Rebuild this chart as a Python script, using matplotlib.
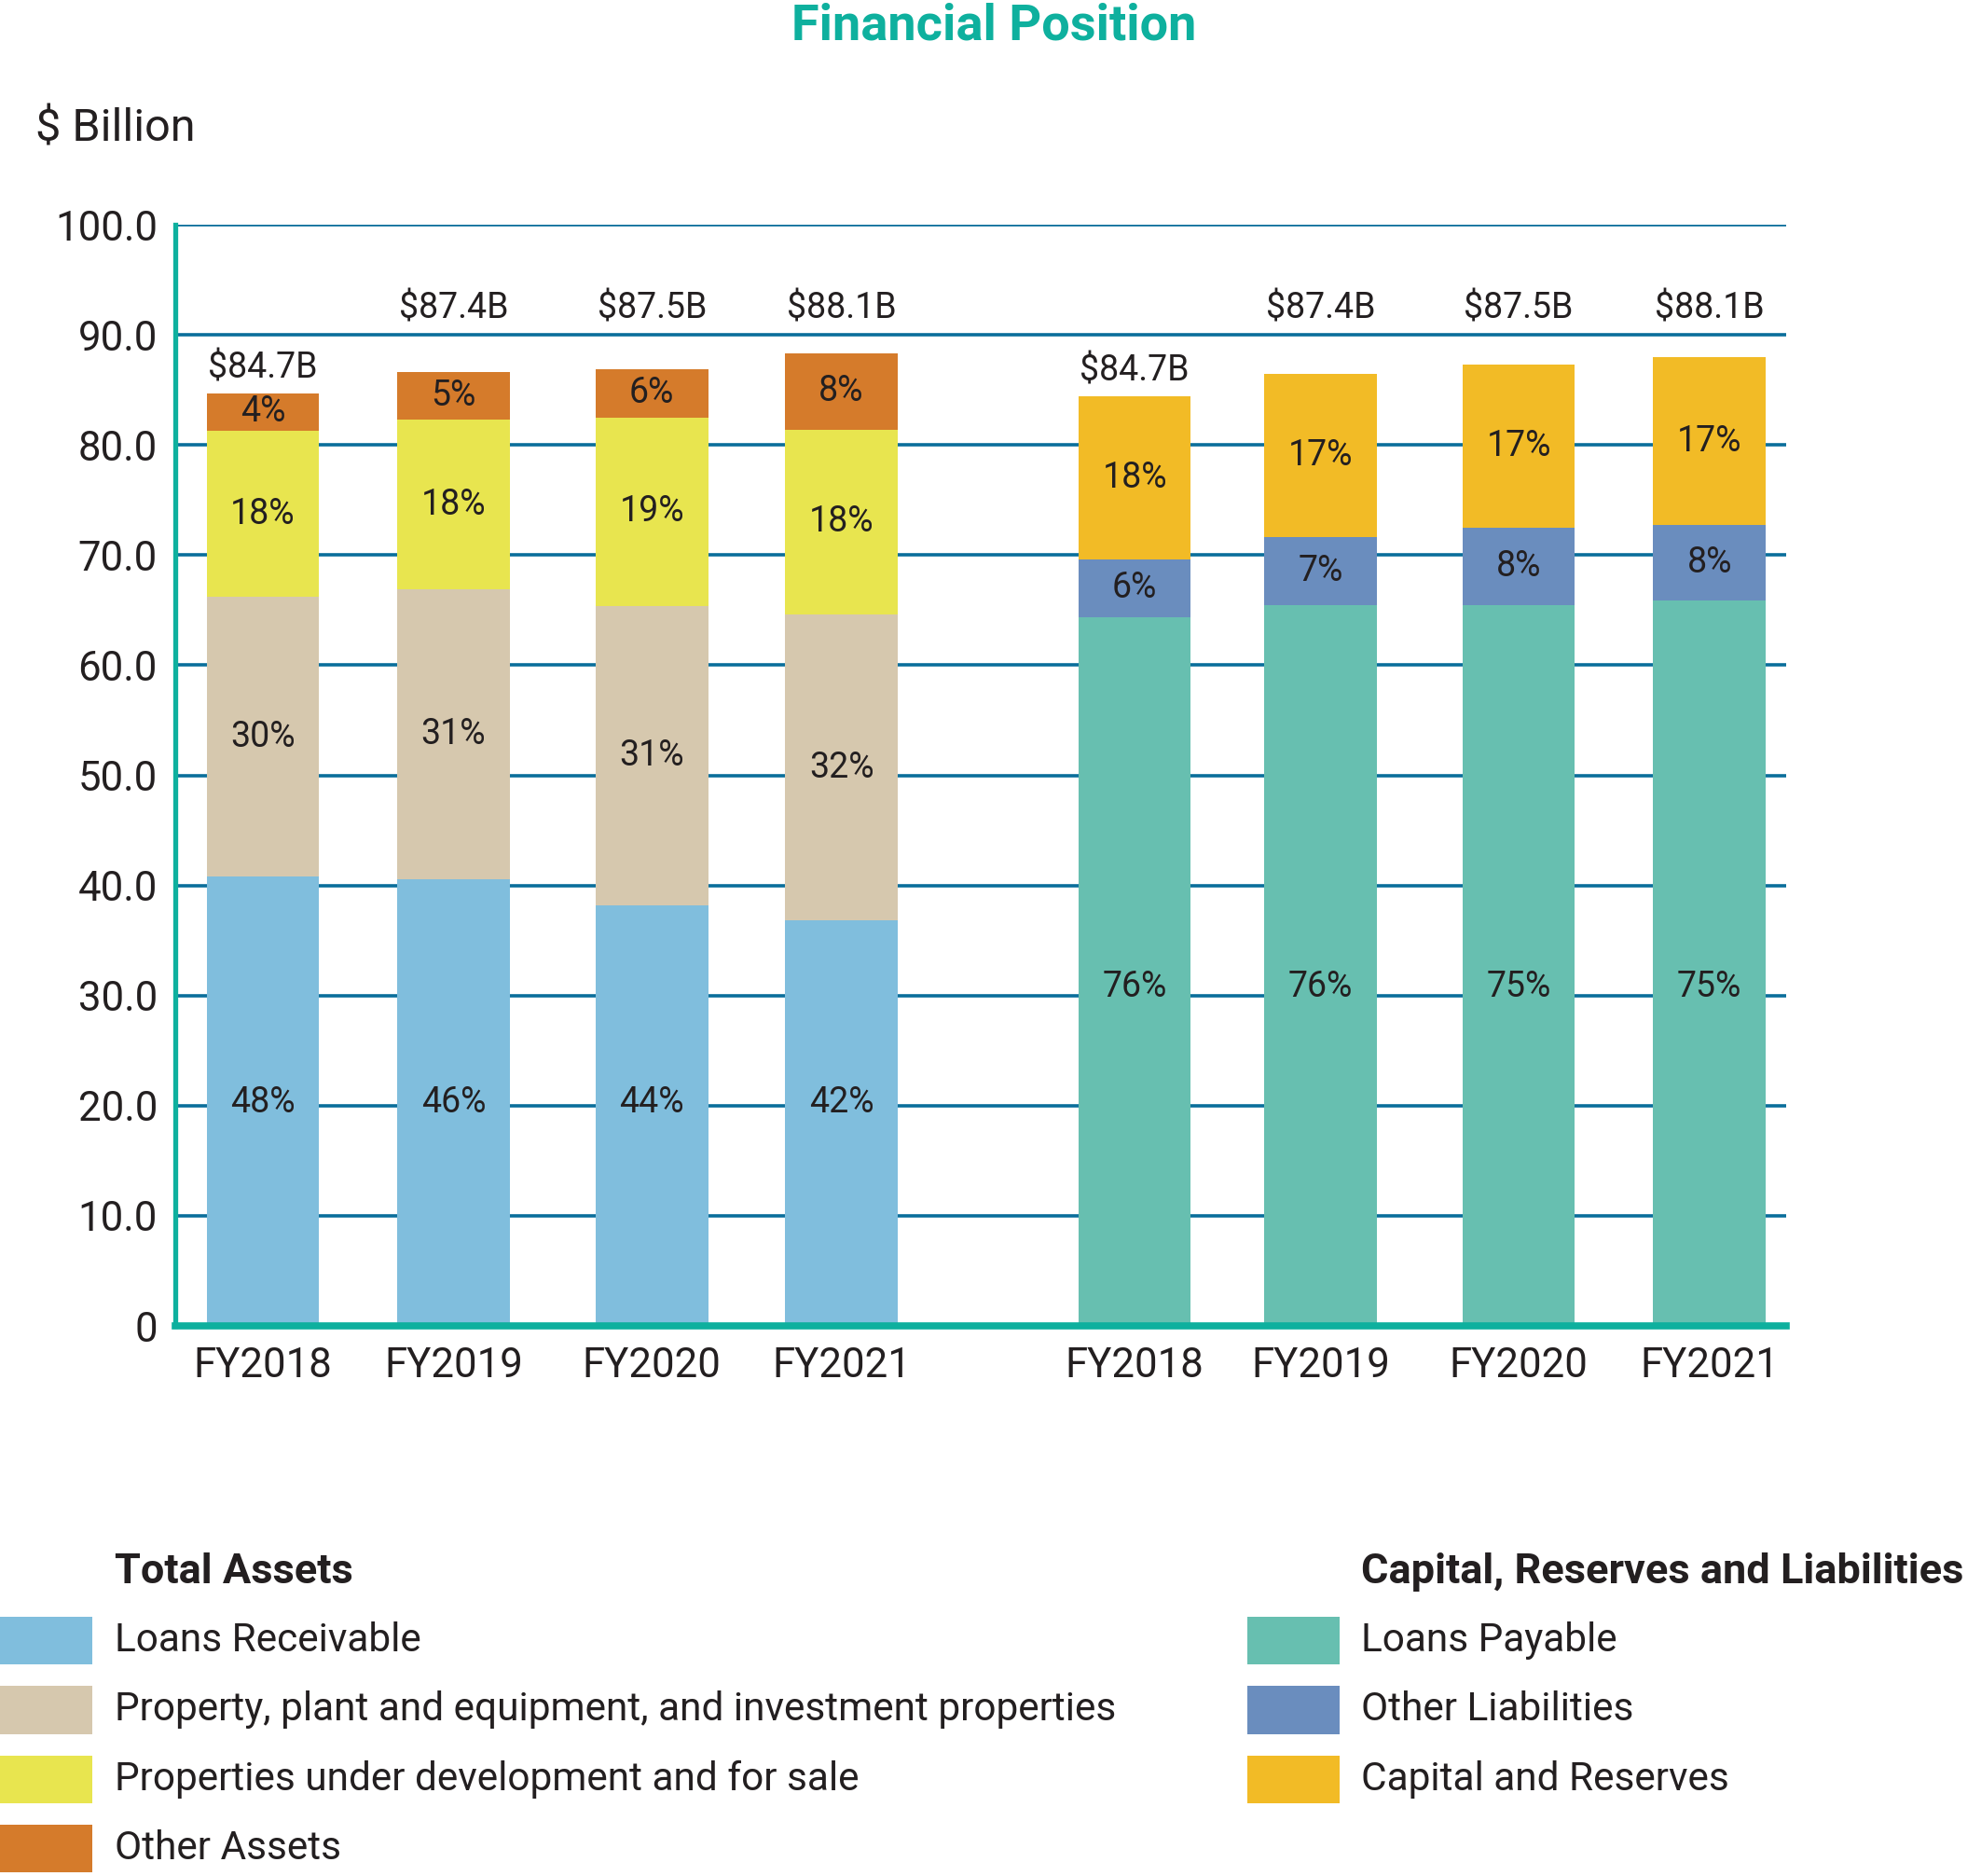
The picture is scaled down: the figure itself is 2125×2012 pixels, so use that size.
import matplotlib
matplotlib.use("Agg")
import matplotlib.pyplot as plt
from matplotlib.patches import Rectangle

plt.rcParams['font.family'] = ['Roboto', 'DejaVu Sans']

# ---------------- data ----------------
years = ["FY2018", "FY2019", "FY2020", "FY2021"]
totals = ["$84.7B", "$87.4B", "$87.5B", "$88.1B"]

# Total Assets ($ billion)
loans_receivable = [40.8, 40.6, 38.2, 36.8]
ppe_investment = [25.4, 26.3, 27.2, 27.8]
properties_dev = [15.1, 15.4, 17.1, 16.8]
other_assets = [3.4, 4.3, 4.4, 6.9]
loans_receivable_pct = ["48%", "46%", "44%", "42%"]
ppe_investment_pct = ["30%", "31%", "31%", "32%"]
properties_dev_pct = ["18%", "18%", "19%", "18%"]
other_assets_pct = ["4%", "5%", "6%", "8%"]

# Capital, Reserves and Liabilities ($ billion)
loans_payable = [64.4, 65.5, 65.5, 65.9]
other_liabilities = [5.2, 6.1, 7.0, 6.8]
capital_reserves = [14.8, 14.9, 14.8, 15.3]
loans_payable_pct = ["76%", "76%", "75%", "75%"]
other_liabilities_pct = ["6%", "7%", "8%", "8%"]
capital_reserves_pct = ["18%", "17%", "17%", "17%"]

y_ticks = [0, 10, 20, 30, 40, 50, 60, 70, 80, 90, 100]
y_ticklabels = ["0", "10.0", "20.0", "30.0", "40.0", "50.0", "60.0", "70.0", "80.0", "90.0", "100.0"]

# ---------------- style ----------------
C_LR = "#80BEDD"
C_PPE = "#D6C8AE"
C_PUD = "#E8E54F"
C_OA = "#D57B2B"
C_LP = "#67BFB0"
C_OL = "#6A8DBE"
C_CR = "#F2BB26"
C_GRID = "#0A6E9B"
C_TEAL = "#0EB09E"
C_TEXT = "#231F20"

W, H = 2125, 2012
fig = plt.figure(figsize=(W / 100, H / 100), dpi=100)

ax_left = 139 / 1568
ax_right = 1414 / 1568
y0_frac = 1 - 1050 / 1485.6
y100_frac = 1 - 178 / 1485.6
ax = fig.add_axes([ax_left, y0_frac, ax_right - ax_left, y100_frac - y0_frac])

left_x = [0, 0.993, 2.026, 3.013]
right_x = [4.54, 5.507, 6.54, 7.533]
bw = 0.585

ax.set_xlim(-0.454, 7.934)
ax.set_ylim(0, 100)

for y in y_ticks[1:]:
    ax.axhline(y, color=C_GRID, lw=2.6, zorder=0)


def stack(xs, series, colors, pcts, fixed_first=None):
    bottom = [0.0] * len(xs)
    for k, (vals, col, labs) in enumerate(zip(series, colors, pcts)):
        ax.bar(xs, vals, bw, bottom=bottom, color=col, zorder=2, linewidth=0)
        for i, x in enumerate(xs):
            if k == 0 and fixed_first is not None:
                ym = fixed_first
            else:
                ym = bottom[i] + vals[i] / 2
            ax.text(x, ym, labs[i], ha="center", va="center", fontsize=27,
                    color=C_TEXT, zorder=3)
        bottom = [b + v for b, v in zip(bottom, vals)]
    return bottom


top_l = stack(left_x, [loans_receivable, ppe_investment, properties_dev, other_assets],
              [C_LR, C_PPE, C_PUD, C_OA],
              [loans_receivable_pct, ppe_investment_pct, properties_dev_pct, other_assets_pct],
              fixed_first=20.3)
top_r = stack(right_x, [loans_payable, other_liabilities, capital_reserves],
              [C_LP, C_OL, C_CR],
              [loans_payable_pct, other_liabilities_pct, capital_reserves_pct],
              fixed_first=30.8)

for xs, tops in ((left_x, top_l), (right_x, top_r)):
    for i, x in enumerate(xs):
        ty = tops[i] + 2.3 if i == 0 else 92.4
        ax.text(x, ty, totals[i], ha="center", va="center", fontsize=27,
                color=C_TEXT, zorder=3)

ax.set_xticks(left_x + right_x)
ax.set_xticklabels(years + years, fontsize=31.5, color=C_TEXT)
ax.set_yticks(y_ticks)
ax.set_yticklabels(y_ticklabels, fontsize=31.5, color=C_TEXT, va="center_baseline")
ax.tick_params(axis="both", length=0)
ax.tick_params(axis="y", pad=14)
ax.tick_params(axis="x", pad=16)

for s in ("top", "right"):
    ax.spines[s].set_visible(False)
ax.spines["left"].set_color(C_TEAL)
ax.spines["left"].set_linewidth(3.8)
ax.spines["bottom"].set_color(C_TEAL)
ax.spines["bottom"].set_linewidth(5.5)
ax.spines["bottom"].set_zorder(4)

# title and unit
fig.text(787 / 1568, 1 - 21 / 1485.6, "Financial Position", ha="center", va="center",
         fontsize=39, fontweight="bold", color=C_TEAL)
fig.text(28 / 1568, 1 - 102 / 1485.6, "$ Billion", ha="left", va="center",
         fontsize=35, color=C_TEXT)

# legend
def fx(px):
    return px / 1568


def fy(py):
    return 1 - py / 1485.6


sw_w = 73 / 1568
sw_h = 38 / 1485.6
fig.text(fx(91), fy(1245), "Total Assets", ha="left", va="center", fontsize=32.5,
         fontweight="bold", color=C_TEXT)
fig.text(fx(1077), fy(1245), "Capital, Reserves and Liabilities", ha="left", va="center",
         fontsize=32.5, fontweight="bold", color=C_TEXT)

left_items = [(C_LR, "Loans Receivable"),
              (C_PPE, "Property, plant and equipment, and investment properties"),
              (C_PUD, "Properties under development and for sale"),
              (C_OA, "Other Assets")]
right_items = [(C_LP, "Loans Payable"),
               (C_OL, "Other Liabilities"),
               (C_CR, "Capital and Reserves")]
row_y = [1299, 1354, 1409, 1464]

for (col, lab), ry in zip(left_items, row_y):
    fig.patches.append(Rectangle((fx(0), fy(ry) - sw_h / 2), sw_w, sw_h,
                                 transform=fig.transFigure, color=col, lw=0))
    fig.text(fx(91), fy(ry), lab, ha="left", va="center", fontsize=30.5, color=C_TEXT)
for (col, lab), ry in zip(right_items, row_y):
    fig.patches.append(Rectangle((fx(987), fy(ry) - sw_h / 2), sw_w, sw_h,
                                 transform=fig.transFigure, color=col, lw=0))
    fig.text(fx(1077), fy(ry), lab, ha="left", va="center", fontsize=30.5, color=C_TEXT)

fig.savefig("out.png", dpi=100)
